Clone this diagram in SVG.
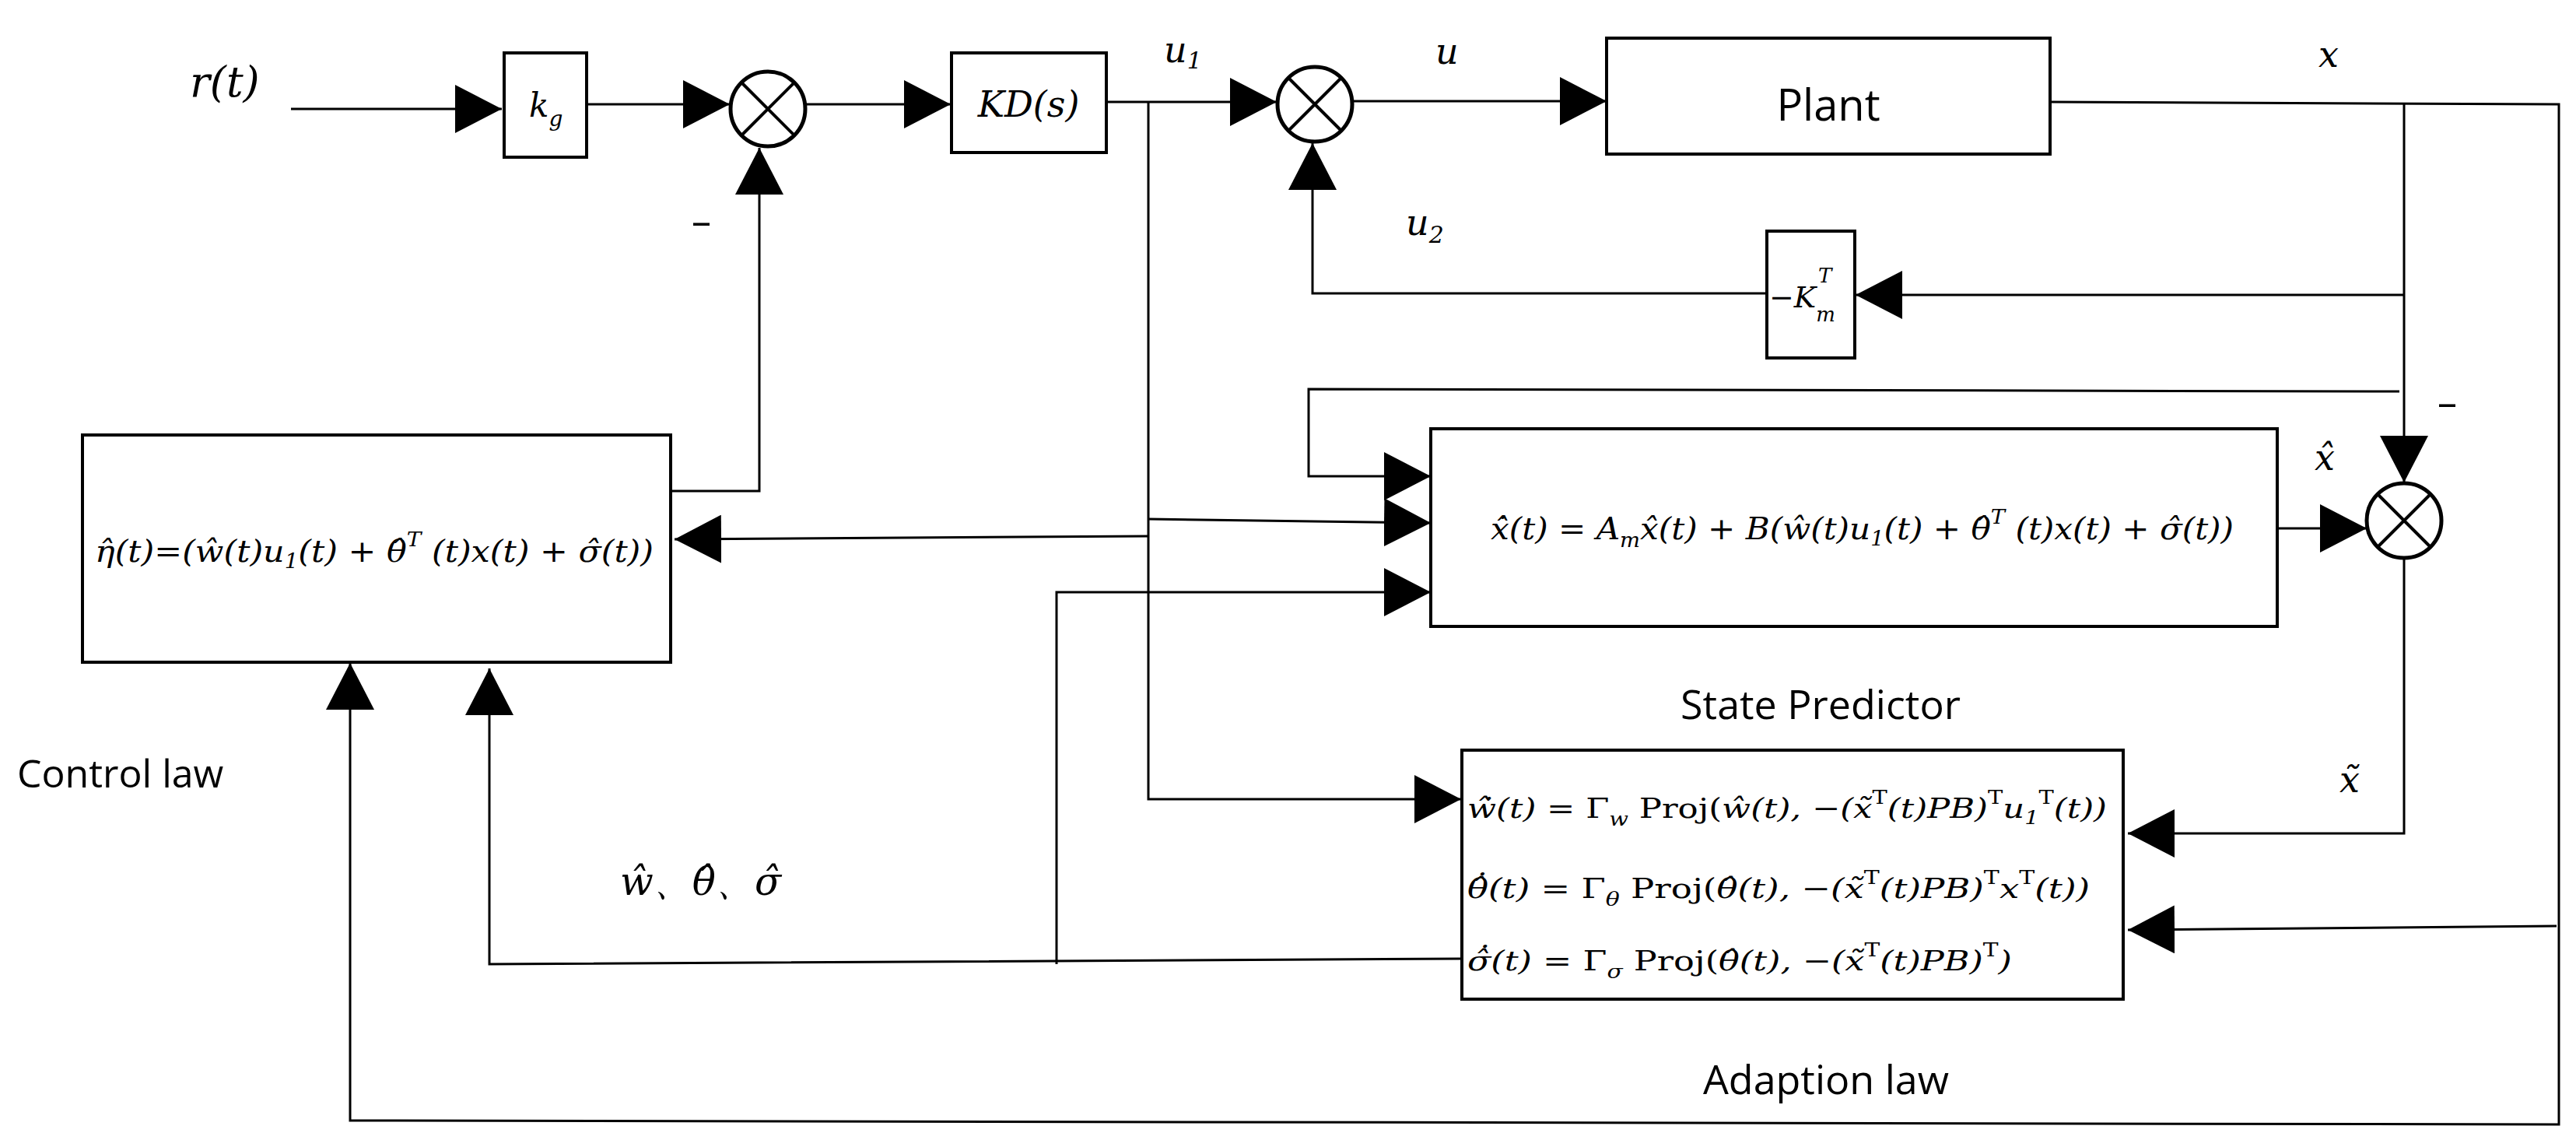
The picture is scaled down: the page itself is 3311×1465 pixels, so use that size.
<svg xmlns="http://www.w3.org/2000/svg" width="3311" height="1465" viewBox="0 0 3311 1465">
<style>
.ln{fill:none;stroke:#000;stroke-width:3}
.bx{fill:#fff;stroke:#000;stroke-width:4}
.m{font-family:"DejaVu Serif","Liberation Serif",serif;font-style:italic;fill:#000}
.r{font-style:normal}
.s{font-family:"Open Sans","Liberation Sans",sans-serif;fill:#000}
</style>
<defs>
<marker id="a" markerUnits="userSpaceOnUse" markerWidth="60" markerHeight="62" refX="60" refY="31" orient="auto"><path d="M0,0 L60,31 L0,62 z" fill="#000"/></marker>
<g id="sum"><circle r="48" fill="#fff" stroke="#000" stroke-width="5"/><path d="M-34,-34 L34,34 M34,-34 L-34,34" stroke="#000" stroke-width="4"/></g>
</defs>
<rect width="3311" height="1465" fill="#fff"/>
<g id="connectors" class="ln" marker-end="url(#a)">
<path d="M374,140 H645"/>
<path d="M754,134 H938"/>
<path d="M1035,134 H1222"/>
<path d="M1422,131 H1641"/>
<path d="M1740,130 H2065"/>
<path d="M2635,131 L3289,134 V1445 L450,1440 V852"/>
<path d="M3090,134 V620"/>
<path d="M3090,379 H2385"/>
<path d="M2271,377 H1687 V184"/>
<path d="M3084,503 L1682,500 V612 H1839"/>
<path d="M1476,131 V1027 H1878"/>
<path d="M1476,689 L867,693"/>
<path d="M1476,667 L1839,672"/>
<path d="M862,631 H976 V190"/>
<path d="M2927,679 H3042"/>
<path d="M3090,717 V1071 H2735"/>
<path d="M3286,1190 L2735,1195"/>
<path d="M1879,1232 L629,1239 V859"/>
<path d="M1358,1239 V761 H1839"/>
</g>
<g id="sum1"><use href="#sum" x="987" y="140"/></g>
<g id="sum2"><use href="#sum" x="1690" y="134"/></g>
<g id="sum3"><use href="#sum" x="3090" y="669"/></g>
<g id="kg"><rect class="bx" x="648" y="68" width="106" height="134"/><text class="m" x="680" y="150" font-size="42">k<tspan font-size="28" dy="12">g</tspan></text></g>
<g id="kd"><rect class="bx" x="1223" y="68" width="199" height="128"/><text class="m" x="1322" y="150" font-size="46" text-anchor="middle">KD(s)</text></g>
<g id="plant"><rect class="bx" x="2065" y="49" width="570" height="149"/><text class="s" x="2350" y="155" font-size="56" text-anchor="middle">Plant</text></g>
<g id="km"><rect class="bx" x="2271" y="297" width="113" height="163"/><text class="m" x="2274" y="395" font-size="38">−K<tspan font-size="26" dy="18">m</tspan><tspan font-size="26" dx="-22" dy="-50">T</tspan></text></g>
<g id="control"><rect class="bx" x="106" y="559" width="756" height="292"/><text class="m" x="122" y="722" font-size="40" textLength="718" lengthAdjust="spacingAndGlyphs">η̂(t)=(ŵ(t)u<tspan font-size="26" dy="8">1</tspan><tspan dy="-8">(t) + θ̂</tspan><tspan font-size="26" dy="-20">T</tspan><tspan dy="20"> (t)x(t) + σ̂(t))</tspan></text></g>
<g id="predictor"><rect class="bx" x="1839" y="551" width="1088" height="254"/><text class="m" x="1916" y="693" font-size="40" textLength="955" lengthAdjust="spacingAndGlyphs">x̂̇(t) = A<tspan font-size="26" dy="10">m</tspan><tspan dy="-10">x̂(t) + B(ŵ(t)u</tspan><tspan font-size="26" dy="8">1</tspan><tspan dy="-8">(t) + θ̂</tspan><tspan font-size="26" dy="-20">T</tspan><tspan dy="20"> (t)x(t) + σ̂(t))</tspan></text></g>
<g id="adaption"><rect class="bx" x="1879" y="964" width="850" height="320"/>
<text class="m" x="1886" y="1051" font-size="36" textLength="822" lengthAdjust="spacingAndGlyphs">ŵ̇(t) = <tspan class="r">Γ</tspan><tspan font-size="24" dy="10">w</tspan><tspan dy="-10" class="r"> Proj(</tspan>ŵ(t), −(x̃<tspan class="r" font-size="24" dy="-18">T</tspan><tspan dy="18">(t)PB)</tspan><tspan class="r" font-size="24" dy="-18">T</tspan><tspan dy="18">u</tspan><tspan font-size="24" dy="8">1</tspan><tspan class="r" font-size="24" dy="-26">T</tspan><tspan dy="18">(t))</tspan></text>
<text class="m" x="1886" y="1154" font-size="36" textLength="800" lengthAdjust="spacingAndGlyphs">θ̂̇(t) = <tspan class="r">Γ</tspan><tspan font-size="24" dy="10">θ</tspan><tspan dy="-10" class="r"> Proj(</tspan>θ̂(t), −(x̃<tspan class="r" font-size="24" dy="-18">T</tspan><tspan dy="18">(t)PB)</tspan><tspan class="r" font-size="24" dy="-18">T</tspan><tspan dy="18">x</tspan><tspan class="r" font-size="24" dy="-18">T</tspan><tspan dy="18">(t))</tspan></text>
<text class="m" x="1886" y="1247" font-size="36" textLength="700" lengthAdjust="spacingAndGlyphs">σ̂̇(t) = <tspan class="r">Γ</tspan><tspan font-size="24" dy="10">σ</tspan><tspan dy="-10" class="r"> Proj(</tspan>θ̂(t), −(x̃<tspan class="r" font-size="24" dy="-18">T</tspan><tspan dy="18">(t)PB)</tspan><tspan class="r" font-size="24" dy="-18">T</tspan><tspan dy="18">)</tspan></text>
</g>
<g id="labels">
<text class="m" x="244" y="124" font-size="54">r(t)</text>
<text class="m" x="1496" y="80" font-size="46">u<tspan font-size="30" dy="8">1</tspan></text>
<text class="m" x="1845" y="82" font-size="46">u</text>
<text class="m" x="1807" y="302" font-size="46">u<tspan font-size="30" dy="10">2</tspan></text>
<text class="m" x="2980" y="86" font-size="46">x</text>
<text class="m" x="2975" y="604" font-size="46">x̂</text>
<text class="m" x="3007" y="1018" font-size="46">x̃</text>
<text class="s" x="889" y="302" font-size="50">–</text>
<text class="s" x="3133" y="535" font-size="50">–</text>
<text class="m" x="797" y="1150" font-size="50">ŵ、θ̂、σ̂</text>
<text class="s" x="22" y="1012" font-size="50">Control law</text>
<text class="s" x="2340" y="924" font-size="52" text-anchor="middle">State Predictor</text>
<text class="s" x="2347" y="1406" font-size="52" text-anchor="middle">Adaption law</text>
</g>
</svg>
